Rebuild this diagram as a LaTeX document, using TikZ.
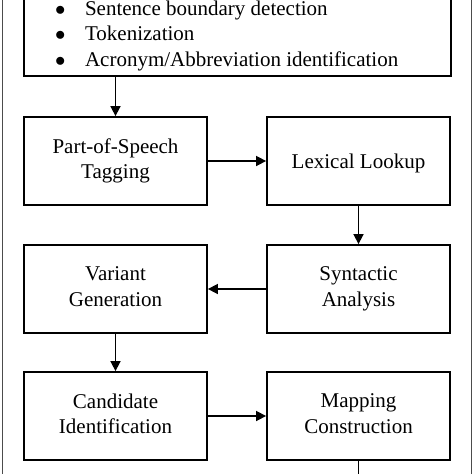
\documentclass[tikz,border=0pt]{standalone}
\usepackage{fontspec}
\setmainfont{Liberation Serif}
\usetikzlibrary{arrows.meta}

\begin{document}
\begin{tikzpicture}[x=1pt,y=-1pt,font=\fontsize{21}{25.5}\selectfont,
  box/.style={draw,line width=1.8pt,minimum width=183pt,minimum height=88pt,align=center,inner sep=0pt,
    execute at begin node=\rule{0pt}{19.1pt},execute at end node=\rule[-5pt]{0pt}{5pt}},
  arr/.style={line width=1.6pt,-{Triangle[length=10pt,width=10pt]}}]

\useasboundingbox (0,0) rectangle (474,474);
\clip (0,0) rectangle (474,474);

% outer frame
\draw[black!70,line width=1.5pt] (2.5,-10) rectangle (471.5,484);

% preprocessing box
\node[draw,line width=1.8pt,minimum width=427pt,minimum height=140pt,anchor=south] (prep) at (237.5,77) {};
\node[anchor=base west,inner sep=0pt] (prepitems) at (55,15) {%
  \begin{tabular}[t]{@{}l@{\hspace{19.5pt}}l@{}}
  $\bullet$ & Sentence boundary detection\\
  $\bullet$ & Tokenization\\
  $\bullet$ & Acronym/Abbreviation identification
  \end{tabular}};

\node[box] (pos) at (115.5,161) {Part-of-Speech\\Tagging};
\node[box] (lex) at (358.5,161) {Lexical Lookup};
\node[box] (var) at (115.5,289) {Variant\\Generation};
\node[box] (syn) at (358.5,289) {Syntactic\\Analysis};
\node[box] (cand) at (115.5,416) {Candidate\\Identification};
\node[box] (map) at (358.5,416) {Mapping\\Construction};
\coordinate (out) at (358.5,484);

\draw[arr] (prep.south -| pos.north) -- (pos.north);
\draw[arr] (pos) -- (lex);
\draw[arr] (lex) -- (syn);
\draw[arr] (syn) -- (var);
\draw[arr] (var) -- (cand);
\draw[arr] (cand) -- (map);
\draw[line width=1.6pt] (map) -- (out);

\end{tikzpicture}
\end{document}
